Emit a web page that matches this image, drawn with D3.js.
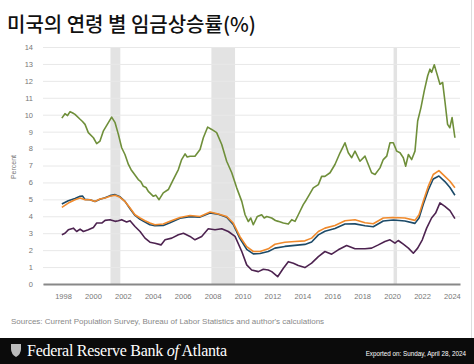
<!DOCTYPE html>
<html>
<head>
<meta charset="utf-8">
<script src="https://cdn.jsdelivr.net/npm/d3@7"></script>
<style>
  body { margin: 0; background: #fff; }
  svg { display: block; }
</style>
</head>
<body>
<div id="chart"></div>
<script>
// wage growth by age group, [year, percent]
var ages16to24 = [[1997.92,9.8],[1998.13,10.06],[1998.3,9.95],[1998.47,10.18],[1998.65,10.1],[1998.8,10.02],[1999.14,9.73],[1999.3,9.6],[1999.47,9.43],[1999.69,8.94],[2000.03,8.64],[2000.25,8.29],[2000.47,8.44],[2000.69,9.03],[2001.03,9.53],[2001.25,9.86],[2001.48,9.53],[2001.7,8.84],[2001.92,8.05],[2002.14,7.65],[2002.37,7.06],[2002.55,6.75],[2002.7,6.57],[2003.03,6.17],[2003.2,6.05],[2003.37,5.77],[2003.55,5.7],[2003.7,5.47],[2004.04,5.18],[2004.2,5.25],[2004.42,4.98],[2004.7,5.38],[2005.04,5.58],[2005.37,6.17],[2005.71,6.76],[2005.93,7.35],[2006.16,7.69],[2006.3,7.5],[2006.49,7.55],[2006.82,7.55],[2007.16,7.95],[2007.38,8.64],[2007.67,9.27],[2007.94,9.13],[2008.27,8.94],[2008.61,8.24],[2008.94,7.25],[2009.28,6.57],[2009.61,5.68],[2009.95,4.88],[2010.17,4.09],[2010.39,3.69],[2010.55,3.9],[2010.72,3.5],[2010.99,3.99],[2011.28,4.09],[2011.45,3.9],[2011.62,3.99],[2011.95,3.9],[2012.2,3.75],[2012.39,3.7],[2012.73,3.6],[2013.06,3.54],[2013.29,3.8],[2013.51,3.7],[2013.73,4.09],[2014.06,4.69],[2014.25,4.95],[2014.4,5.18],[2014.73,5.68],[2015.07,5.87],[2015.29,6.36],[2015.51,6.36],[2015.85,6.57],[2016.18,7.06],[2016.52,7.75],[2016.85,8.34],[2017.07,7.75],[2017.3,7.46],[2017.52,7.85],[2017.85,7.25],[2018.19,7.55],[2018.41,7.06],[2018.63,6.57],[2018.86,6.47],[2019.19,6.86],[2019.41,7.35],[2019.64,7.55],[2019.86,8.34],[2020.08,8.34],[2020.31,7.85],[2020.53,7.75],[2020.75,7.46],[2020.91,6.96],[2021.09,7.65],[2021.31,7.35],[2021.53,7.85],[2021.71,9.63],[2021.93,10.42],[2022.15,11.41],[2022.38,12.3],[2022.53,12.69],[2022.64,12.5],[2022.82,12.95],[2022.97,12.5],[2023.2,11.8],[2023.38,11.9],[2023.53,10.81],[2023.71,9.43],[2023.86,9.23],[2024.01,9.83],[2024.2,8.64]];

var ages25to54 = [[1997.92,4.73],[1998.35,4.92],[1998.8,5.05],[1999.14,5.18],[1999.3,5.2],[1999.47,5.0],[1999.8,4.98],[2000.14,4.88],[2000.47,5.0],[2000.81,5.1],[2001.14,5.22],[2001.48,5.28],[2001.81,5.15],[2002.14,4.88],[2002.48,4.45],[2002.81,4.05],[2003.15,3.82],[2003.48,3.66],[2003.81,3.5],[2004.14,3.44],[2004.7,3.46],[2005.15,3.62],[2005.82,3.88],[2006.49,3.98],[2007.16,3.95],[2007.83,4.2],[2008.38,4.12],[2008.94,3.95],[2009.38,3.52],[2009.82,2.7],[2010.28,2.05],[2010.72,1.78],[2011.17,1.8],[2011.72,1.92],[2012.17,2.12],[2012.83,2.22],[2013.5,2.28],[2014.17,2.34],[2014.62,2.48],[2015.07,2.9],[2015.51,3.12],[2016.18,3.28],[2016.85,3.54],[2017.52,3.55],[2018.19,3.44],[2018.74,3.38],[2019.41,3.72],[2020.08,3.78],[2020.86,3.72],[2021.53,3.58],[2021.8,3.9],[2022.08,4.7],[2022.42,5.55],[2022.75,6.2],[2023.13,6.38],[2023.53,6.05],[2023.87,5.7],[2024.2,5.24]];

var overall = [[1997.92,4.53],[1998.35,4.78],[1998.8,4.98],[1999.14,5.08],[1999.47,4.98],[1999.8,4.98],[2000.14,4.88],[2000.47,5.02],[2000.81,5.08],[2001.14,5.18],[2001.48,5.24],[2001.81,5.12],[2002.14,4.88],[2002.48,4.49],[2002.81,4.09],[2003.15,3.9],[2003.48,3.74],[2003.81,3.6],[2004.14,3.5],[2004.7,3.54],[2005.15,3.7],[2005.82,3.93],[2006.49,4.05],[2007.16,3.99],[2007.83,4.25],[2008.38,4.13],[2008.94,3.99],[2009.38,3.6],[2009.82,2.81],[2010.28,2.21],[2010.72,1.92],[2011.17,1.92],[2011.72,2.08],[2012.17,2.35],[2012.83,2.47],[2013.5,2.51],[2014.17,2.55],[2014.62,2.71],[2015.07,3.1],[2015.51,3.3],[2016.18,3.46],[2016.85,3.74],[2017.52,3.8],[2018.19,3.62],[2018.74,3.56],[2019.41,3.9],[2020.08,3.93],[2020.86,3.9],[2021.53,3.76],[2021.8,4.09],[2022.08,4.88],[2022.42,5.77],[2022.75,6.47],[2023.13,6.7],[2023.53,6.36],[2023.87,6.07],[2024.2,5.68]];

var ages55plus = [[1997.92,2.91],[1998.13,3.0],[1998.35,3.2],[1998.69,3.3],[1998.91,3.1],[1999.14,3.24],[1999.36,3.1],[1999.69,3.2],[2000.03,3.34],[2000.25,3.6],[2000.59,3.6],[2000.81,3.76],[2001.14,3.8],[2001.48,3.7],[2001.7,3.74],[2001.92,3.8],[2002.25,3.66],[2002.48,3.74],[2002.81,3.4],[2003.15,3.1],[2003.48,2.71],[2003.81,2.47],[2004.14,2.41],[2004.55,2.31],[2004.82,2.61],[2005.27,2.71],[2005.71,2.91],[2006.05,3.0],[2006.49,2.81],[2006.82,2.61],[2007.27,2.81],[2007.71,3.26],[2008.16,3.2],[2008.61,3.26],[2009.05,3.1],[2009.5,2.81],[2009.95,1.92],[2010.28,1.13],[2010.61,0.83],[2011.06,0.73],[2011.39,0.87],[2011.72,0.83],[2011.95,0.73],[2012.35,0.43],[2012.73,0.93],[2013.06,1.32],[2013.4,1.23],[2013.73,1.09],[2014.17,0.97],[2014.62,1.23],[2015.07,1.62],[2015.51,1.92],[2015.96,1.76],[2016.4,2.02],[2016.96,2.27],[2017.52,2.08],[2018.19,2.08],[2018.63,2.12],[2019.08,2.31],[2019.52,2.51],[2019.86,2.61],[2020.19,2.41],[2020.41,2.57],[2020.75,2.35],[2021.09,2.12],[2021.42,1.82],[2021.71,2.12],[2022.02,2.61],[2022.31,3.3],[2022.64,3.9],[2022.91,4.19],[2023.2,4.79],[2023.53,4.58],[2023.87,4.33],[2024.2,3.86]];

// recessions [start, end]
var recessions = [[2001.17, 2001.83], [2007.92, 2009.5], [2020.1, 2020.33]];

var yTicks = [0,1,2,3,4,5,6,7,8,9,10,11,12,13,14];
var xTicks = [1998,2000,2002,2004,2006,2008,2010,2012,2014,2016,2018,2020,2022,2024];

var W = 474, H = 364;
var margin = {top: 47, right: 14, bottom: 80, left: 43};

var svg = d3.select("#chart")
  .append("svg")
    .attr("width", W)
    .attr("height", H);

var x = d3.scaleLinear()
  .domain([1996.66, 2024.54])
  .range([margin.left, W - margin.right]);

var y = d3.scaleLinear()
  .domain([0, 14])
  .range([H - margin.bottom, margin.top]);

// title
svg.append("text")
  .attr("x", 7)
  .attr("y", 32)
  .text("미국의 연령 별 임금상승률(%)")
  .attr("font-family", "'Noto Sans CJK KR', sans-serif")
  .attr("font-weight", 500)
  .attr("font-size", "20px")
  .attr("fill", "#111");

// recession bands
svg.selectAll("rect.rec")
  .data(recessions)
  .enter()
  .append("rect")
    .attr("class", "rec")
    .attr("x", function(d){ return x(d[0]); })
    .attr("y", y(14))
    .attr("width", function(d){ return x(d[1]) - x(d[0]); })
    .attr("height", y(0) - y(14))
    .attr("fill", "#e3e3e3");

// gridlines + y labels
var yAxis = svg.append("g")
  .attr("transform", "translate(" + margin.left + ",0)")
  .call(d3.axisLeft(y).tickValues(yTicks).tickSize(-(W - margin.right - margin.left)).tickPadding(10));
yAxis.select(".domain").remove();
yAxis.selectAll(".tick line").attr("stroke", "#e8e8e8");
yAxis.selectAll(".tick text")
  .attr("fill", "#777")
  .attr("font-size", "7.5px")
  .attr("font-family", "'Liberation Sans', Arial, sans-serif");

// x axis
var xAxis = svg.append("g")
  .attr("transform", "translate(0," + y(0) + ")")
  .call(d3.axisBottom(x).tickValues(xTicks).tickFormat(d3.format("d")).tickSize(0).tickPadding(10));
xAxis.select(".domain").attr("stroke", "#888").attr("stroke-width", 2);
xAxis.selectAll(".tick text")
  .attr("fill", "#777")
  .attr("font-size", "7.5px")
  .attr("font-family", "'Liberation Sans', Arial, sans-serif");

// y label
svg.append("text")
  .attr("transform", "translate(16,167) rotate(-90)")
  .attr("text-anchor", "middle")
  .text("Percent")
  .attr("font-size", "7px")
  .attr("fill", "#777")
  .attr("font-family", "'Liberation Sans', Arial, sans-serif");

// lines
var line = d3.line()
  .x(function(d){ return x(d[0]); })
  .y(function(d){ return y(d[1]); });

var series = [
  {data: ages16to24, color: "#6f8f3a"},
  {data: ages25to54, color: "#1c4a68"},
  {data: overall, color: "#f08a2c"},
  {data: ages55plus, color: "#4d2350"}
];

svg.selectAll("path.series")
  .data(series)
  .enter()
  .append("path")
    .attr("class", "series")
    .attr("d", function(d){ return line(d.data); })
    .attr("fill", "none")
    .attr("stroke", function(d){ return d.color; })
    .attr("stroke-width", 1.6)
    .attr("stroke-linejoin", "round");

// sources
svg.append("text")
  .attr("x", 11)
  .attr("y", 324)
  .text("Sources: Current Population Survey, Bureau of Labor Statistics and author's calculations")
  .attr("font-size", "8px")
  .attr("fill", "#888")
  .attr("font-family", "'Liberation Sans', Arial, sans-serif");

// right border
svg.append("line")
  .attr("x1", 471.5).attr("x2", 471.5)
  .attr("y1", 0).attr("y2", 338)
  .attr("stroke", "#ddd");

// footer bar
svg.append("rect")
  .attr("x", 0)
  .attr("y", 338)
  .attr("width", W)
  .attr("height", H - 338)
  .attr("fill", "#0b0b0b");

// little emblem
svg.append("path")
  .attr("d", "M11,344 L21,344 L21,349 Q21,354 16,357 Q11,354 11,349 Z")
  .attr("fill", "#bbb");

var logo = svg.append("text")
  .attr("x", 27)
  .attr("y", 356)
  .attr("font-family", "'Liberation Serif', 'DejaVu Serif', serif")
  .attr("font-size", "16px")
  .attr("fill", "#fff")
  .attr("textLength", 200);
logo.append("tspan").text("Federal Reserve Bank ");
logo.append("tspan").attr("font-style", "italic").text("of");
logo.append("tspan").text(" Atlanta");

svg.append("text")
  .attr("x", 466)
  .attr("y", 356)
  .attr("text-anchor", "end")
  .text("Exported on: Sunday, April 28, 2024")
  .attr("font-size", "6.3px")
  .attr("fill", "#fff")
  .attr("font-family", "'Liberation Sans', Arial, sans-serif");
</script>
</body>
</html>
